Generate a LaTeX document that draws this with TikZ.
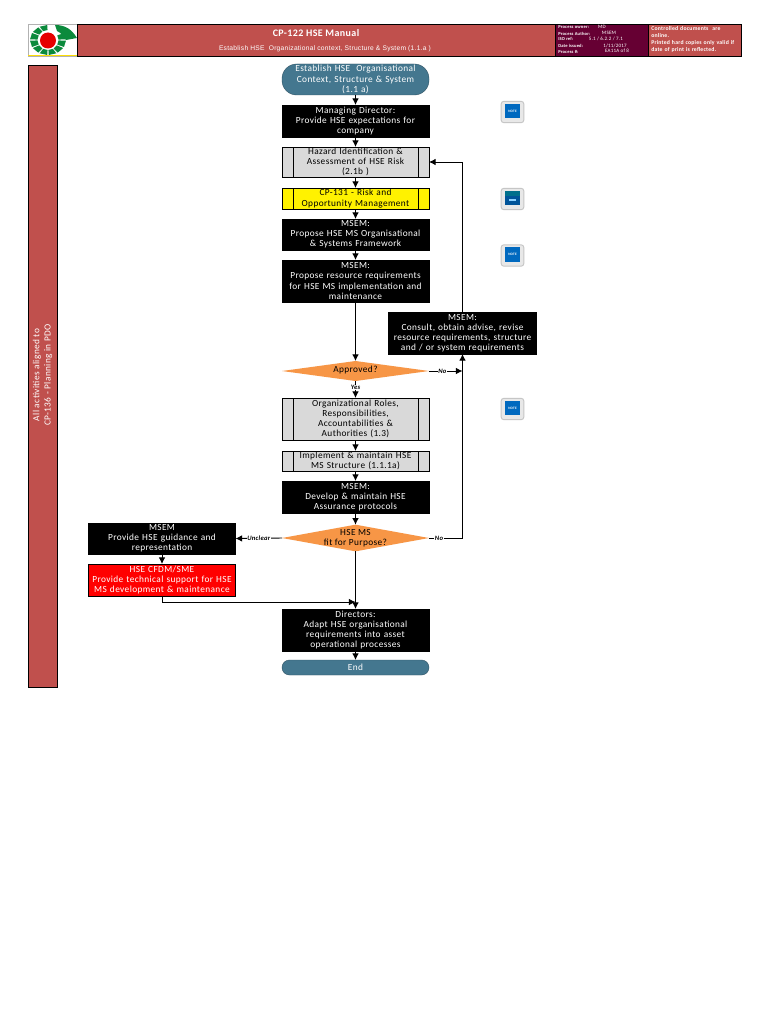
\documentclass[tikz,border=0pt]{standalone}
\usepackage{fontspec}
\setmainfont[LetterSpace=4]{Carlito}
\newfontfamily\arialf[LetterSpace=4]{Liberation Sans}
\usetikzlibrary{shapes.geometric,arrows.meta}
\definecolor{brick}{HTML}{C0504D}
\definecolor{plum}{HTML}{660033}
\definecolor{teal1}{HTML}{44778F}
\definecolor{orange1}{HTML}{F79646}
\definecolor{gray1}{HTML}{D9D9D9}
\definecolor{logog}{HTML}{0B8A3C}
\tikzset{
 x=0.75pt,y=-0.75pt,
 base/.style={font=\fontsize{7}{7.6}\selectfont,align=center,inner sep=0pt,outer sep=0pt},
 blackbox/.style={base,draw=black,fill=black,text=white,rectangle,minimum width=110.25pt,text width=108pt},
 termbox/.style={base,draw=teal1!70!black,line width=.3pt,fill=teal1,text=white,rectangle,rounded corners=11pt,minimum width=110.25pt,text width=108pt},
 procbox/.style={base,draw=black,line width=.7pt,fill=gray1,text=black,rectangle,minimum width=110.25pt,text width=90pt},
 yellowbox/.style={procbox,fill=yellow},
 redbox/.style={base,draw=black,line width=.5pt,fill=red,text=white,rectangle,minimum width=110.25pt,text width=108pt},
 decision/.style={base,diamond,aspect=5,fill=orange1,text=black,draw=none},
 flow/.style={draw=black,line width=.7pt,-{Latex[length=5pt,width=5pt]}},
 tag/.style={font=\fontsize{5}{6}\selectfont\itshape\bfseries,inner sep=.5pt,fill=white},
 headbox/.style={draw=black,line width=.7pt,rectangle,inner sep=0pt,outer sep=0pt},
 noteicon/.style={rectangle,rounded corners=2pt,fill=gray!18,draw=gray!45,line width=.7pt,minimum width=17pt,minimum height=16pt,inner sep=0pt},
 noteblue/.style={fill=blue!45!cyan!75!black,draw=none},
 seg/.style={fill=logog,draw=none},
}
\begin{document}
\begin{tikzpicture}
\useasboundingbox (0,0) rectangle (768,1024);
\fill[white] (0,0) rectangle (768,1024);
% header
\node[headbox,draw=gray!60,line width=.3pt,fill=white,minimum width=36.75pt,minimum height=24pt] (logo) at (52.5,40) {};
\draw[yellow!80!orange,line width=.5pt] (28,55.5) -- (77,55.5);
\foreach \a in {90,120,...,360}{
 \fill[seg] ({48+10.5*cos(\a+2.5)},{40-10*sin(\a+2.5)}) -- ({48+18*cos(\a+2.5)},{40-15*sin(\a+2.5)}) -- ({48+18*cos(\a+27.5)},{40-15*sin(\a+27.5)}) -- ({48+10.5*cos(\a+27.5)},{40-10*sin(\a+27.5)}) -- cycle;
}
\fill[seg] (55,25) .. controls (66,25) and (72,30) .. (77,38) -- (66,40) .. controls (64,36) and (61,33) .. (57,31) -- cycle;
\fill[red!90!black] (48,40.5) circle[radius=8];
\node[headbox,fill=brick,minimum width=358.5pt,minimum height=24pt] (titlebar) at (316,40) {};
\node[font=\fontsize{7.5}{9}\selectfont\bfseries,text=white,inner sep=0pt] (title) at (316,33.5) {CP-122 HSE Manual};
\node[font=\arialf\fontsize{5}{6}\selectfont,text=white,inner sep=0pt] (subtitle) at (325,48.5) {Establish HSE\ \ Organizational context, Structure \& System (1.1.a )};
\node[headbox,fill=plum,minimum width=69.75pt,minimum height=24pt] (meta) at (601.5,40) {};
\foreach \nn/\yy/\kk/\vv/\vx in {m1/27.5/{Process owner:}/{MD}/602,m2/33.5/{Process Author:}/{MSEM}/609,m3/39/{ISO ref:}/{5.1 / 6.2.2 / 7.1}/606,m4/46/{Date issued:}/{1/11/2017}/615,m5/51.5/{Process \#:}/{EA11A of 8}/617}{
 \node[font=\fontsize{3.4}{4}\selectfont\bfseries,text=white,anchor=west,inner sep=0pt] (\nn k) at (558,\yy) {\kk};
 \node[font=\fontsize{3.8}{4}\selectfont,text=white,inner sep=0pt] (\nn v) at (\vx,\yy-.5) {\vv};
}
\node[headbox,fill=brick,minimum width=69.75pt,minimum height=24pt] (ctrl) at (694.5,40) {};
\node[font=\fontsize{4.3}{5.2}\selectfont\bfseries,text=white,align=left,anchor=north west,inner sep=0pt,text width=64pt] (ctrltext) at (651,26) {Controlled documents\ \ are\\online.\\Printed hard copies only valid if date of print is reflected.};
% left bar
\node[headbox,fill=brick,minimum width=21.75pt,minimum height=467pt] (bar) at (42.5,376.5) {};
\node[font=\fontsize{7}{8.4}\selectfont,text=white,align=center,rotate=90,inner sep=0pt] (bartext) at (42.5,375) {All activities aligned to\\CP-136 - Planning in PDO};
% nodes
\node[termbox,minimum height=23.25pt] (start) at (355.5,79.5) {Establish HSE\ \ Organisational\\Context, Structure \& System\\(1.1 a)};
\node[blackbox,minimum height=24pt] (md) at (355.5,121) {Managing Director:\\Provide HSE expectations for\\company};
\node[procbox,minimum height=22.5pt] (haz) at (355.5,162) {Hazard Identification \&\\Assessment of HSE Risk\\(2.1b )};
\node[yellowbox,minimum height=15.75pt] (cp) at (355.5,198.5) {CP-131 - Risk and\\Opportunity Management};
\node[blackbox,minimum height=23.25pt] (ms1) at (355.5,234.5) {MSEM:\\Propose HSE MS Organisational\\\& Systems Framework};
\node[blackbox,minimum height=31.5pt] (ms2) at (355.5,281) {MSEM:\\Propose resource requirements\\for HSE MS implementation and\\maintenance};
\node[blackbox,minimum width=111pt,text width=110pt,minimum height=31.5pt] (consult) at (462.5,333) {MSEM:\\Consult, obtain advise, revise\\resource requirements, structure\\and / or system requirements};
\node[decision,minimum width=110.25pt,minimum height=15pt] (appr) at (355.5,371) {};
\node[base,text=black] (apprt) at (355.5,370.5) {Approved?};
\node[procbox,minimum height=31.5pt] (org) at (355.5,419) {Organizational Roles,\\Responsibilities,\\Accountabilities \&\\Authorities (1.3)};
\node[procbox,minimum height=15pt] (impl) at (355.5,461) {Implement \& maintain HSE\\MS Structure (1.1.1a)};
\node[blackbox,minimum height=24pt] (dev) at (355.5,497) {MSEM:\\Develop \& maintain HSE\\Assurance protocols};
\node[decision,minimum width=110.25pt,minimum height=20pt] (fit) at (355.5,538) {};
\node[base,text=black] (fitt) at (355.5,538) {HSE MS\\fit for Purpose?};
\node[blackbox,minimum height=23.25pt] (ml) at (162,538.5) {MSEM\\Provide HSE guidance and\\representation};
\node[redbox,minimum height=24pt] (cf) at (162,580) {HSE CFDM/SME\\Provide technical support for HSE\\MS development \& maintenance};
\node[blackbox,minimum height=31.5pt] (dir) at (355.5,630) {Directors:\\Adapt HSE organisational\\requirements into asset\\operational processes};
\node[termbox,rounded corners=5.6pt,minimum height=11.25pt] (endn) at (355.5,667.5) {End};
% inner rules of predefined-process boxes
\foreach \b in {haz,cp,org,impl}{
 \draw[line width=.7pt] ([xshift=8.25pt]\b.north west) -- ([xshift=8.25pt]\b.south west);
 \draw[line width=.7pt] ([xshift=-8.25pt]\b.north east) -- ([xshift=-8.25pt]\b.south east);
}
% connectors
\draw[flow] (start) -- (md);
\draw[flow] (md) -- (haz);
\draw[flow] (haz) -- (cp);
\draw[flow] (cp) -- (ms1);
\draw[flow] (ms1) -- (ms2);
\draw[flow] (ms2) -- (appr);
\draw[flow] (appr) -- node[tag,pos=.38]{Yes} (org);
\draw[flow] (org) -- (impl);
\draw[flow] (impl) -- (dev);
\draw[flow] (dev) -- (fit);
\draw[flow] (fit) -- (dir);
\draw[flow] (dir) -- (endn);
\draw[flow] (fit.west) -- node[tag,pos=.5]{Unclear} (ml.east);
\draw[flow] (ml) -- (cf);
\draw[flow] (appr.east) -- node[tag,pos=.4]{No} (consult.south |- appr.east);
\draw[flow] (fit.east) -- node[tag,pos=.3]{No} (consult.south |- fit.east) -- (consult.south);
\draw[flow] (consult.north) |- (haz.east);
\draw[flow] (cf.south) |- ([yshift=5.25pt]dir.north);
% note icons
\foreach \nn/\yy in {n1/112,n3/255.5,n4/409}{
 \node[noteicon] (\nn) at (512.5,\yy) {};
 \node[noteblue,minimum width=11.5pt,minimum height=11pt,inner sep=0pt,text=white,font=\fontsize{2.6}{3}\selectfont\bfseries] (\nn b) at (512.5,\yy-1) {NOTE};
}
\node[noteicon] (n2) at (512.5,199) {};
\node[noteblue,fill=blue!45!cyan!60!black,minimum width=11.5pt,minimum height=11pt,inner sep=0pt] (n2b) at (512.5,198) {};
\fill[blue!20!cyan!55!black] (505,191) rectangle (520,196);
\fill[blue!40!cyan!45!white] (509,199) rectangle (516,201);
\end{tikzpicture}
\end{document}
